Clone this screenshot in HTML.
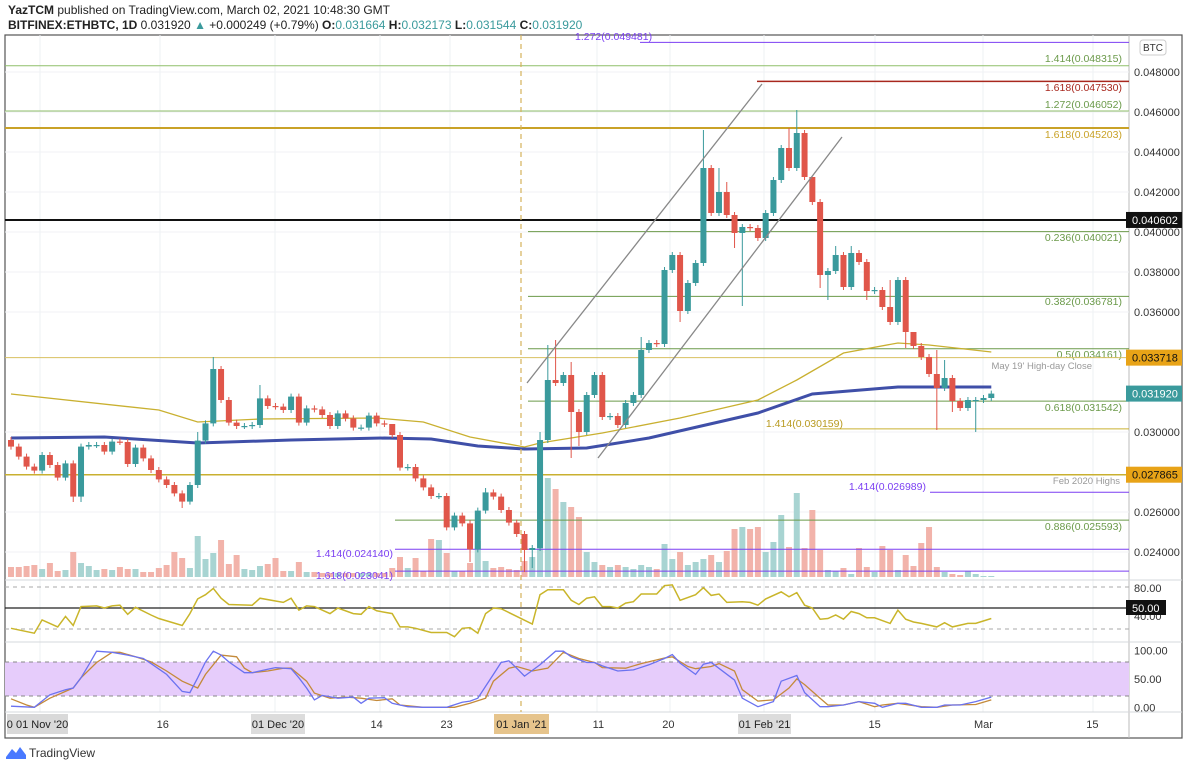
<!DOCTYPE html>
<html><head><meta charset="utf-8">
<style>
html,body{margin:0;padding:0;background:#fff;}
svg{display:block;font-family:"Liberation Sans",Arial,sans-serif;}
</style></head>
<body>
<svg id="chart" width="1185" height="768" viewBox="0 0 1185 768" xmlns="http://www.w3.org/2000/svg">
<rect x="0" y="0" width="1185" height="768" fill="#ffffff"/>
<text x="8" y="14" font-size="12" fill="#222"><tspan font-weight="bold">YazTCM</tspan> published on TradingView.com, March 02, 2021 10:48:30 GMT</text>
<text x="8" y="29" font-size="12" fill="#222"><tspan font-weight="bold">BITFINEX:ETHBTC, 1D</tspan> 0.031920 <tspan fill="#3a9a9c">▲</tspan> +0.000249 (+0.79%) <tspan font-weight="bold">O:</tspan><tspan fill="#3a9a9c">0.031664</tspan> <tspan font-weight="bold">H:</tspan><tspan fill="#3a9a9c">0.032173</tspan> <tspan font-weight="bold">L:</tspan><tspan fill="#3a9a9c">0.031544</tspan> <tspan font-weight="bold">C:</tspan><tspan fill="#3a9a9c">0.031920</tspan></text>
<rect x="5" y="35" width="1177" height="703" fill="none" stroke="#555" stroke-width="1.2"/>
<line x1="1129" y1="35" x2="1129" y2="738" stroke="#bbb"/>
<g id="grid"></g>
<g id="vol"></g>
<g id="levels"></g>
<g id="mas"></g>
<g id="candles"></g>
<g id="drawings"></g>
<g id="osc"></g>
<g id="axes"></g>
<g>
<path d="M6 757 L12 749 L16 753 L20 747 L26 755 L26 759 L6 759 Z" fill="#2962ff" opacity="0.85"/>
<text x="29" y="757" font-size="12" fill="#333">TradingView</text>
</g>
</svg>
<script>
const closes=[0.02927,0.02877,0.02827,0.02807,0.02885,0.02835,0.02772,0.02843,0.02677,0.02927,
0.02935,0.02935,0.02902,0.02952,0.02950,0.02840,0.02922,0.02868,0.02810,0.02763,
0.02735,0.02693,0.02652,0.02735,0.02957,0.03043,0.03315,0.03160,0.03047,0.03030,
0.03030,0.03035,0.03168,0.03130,0.03127,0.03110,0.03177,0.03047,0.03118,0.03113,
0.03085,0.03030,0.03093,0.03068,0.03022,0.03022,0.03082,0.03043,0.03040,0.02985,
0.02822,0.02825,0.02768,0.02723,0.02680,0.02680,0.02523,0.02582,0.02543,0.02413,
0.02607,0.02698,0.02677,0.02610,0.02547,0.02490,0.02410,0.02420,0.02960,0.03260,
0.03245,0.03285,0.03100,0.03000,0.03185,0.03285,0.03075,0.03080,0.03035,0.03145,
0.03185,0.03410,0.03445,0.03440,0.03810,0.03885,0.03605,0.03745,0.03845,0.04320,
0.04095,0.04200,0.04085,0.03995,0.04025,0.04020,0.03970,0.04095,0.04260,0.04420,
0.04320,0.04495,0.04275,0.04150,0.03785,0.03805,0.03885,0.03725,0.03895,0.03850,
0.03705,0.03710,0.03625,0.03550,0.03760,0.03500,0.03430,0.03375,0.03290,0.03220,
0.03270,0.03155,0.03120,0.03160,0.03160,0.03170,0.03192];
const firstOpen=0.02960;
const highOverrides={24:0.0300,26:0.03375,32:0.03235,49:0.03035,61:0.0272,68:0.0300,69:0.03435,70:0.0346,72:0.0335,81:0.03475,89:0.0451,91:0.0432,92:0.0425,100:0.0452,101:0.0461,103:0.0424,106:0.0393,108:0.0393,113:0.0376,116:0.0350,119:0.0341,120:0.0336};
const lowOverrides={8:0.0265,9:0.0265,22:0.0262,59:0.0235,66:0.0230,67:0.0232,72:0.0287,73:0.0293,86:0.0355,93:0.0392,94:0.0363,104:0.0372,105:0.0366,110:0.0366,115:0.0342,119:0.0301,121:0.0310,124:0.0300};
const volumes=[10,10,11,12,8,14,6,7,25,14,11,7,8,7,10,8,8,5,5,9,12,25,19,9,41,18,24,37,13,22,8,7,11,13,19,6,6,15,5,5,4,4,4,4,4,4,4,4,4,9,20,9,19,6,38,37,24,6,6,14,36,16,9,10,8,7,16,
20,115,99,88,75,70,60,25,15,12,10,12,10,8,12,10,8,33,18,25,12,15,18,22,15,26,48,50,48,50,25,35,62,30,84,29,67,27,7,6,9,3,29,10,5,31,27,7,22,11,34,50,10,5,3,2,6,3,1,1];
const ma200Idx=[0,12,24,36,48,54,60,66,74,82,96,103,114,126];
const ma200Val=[0.02970,0.02975,0.02945,0.02960,0.02970,0.02965,0.02930,0.02915,0.02920,0.02970,0.03095,0.03190,0.03225,0.03225];
const ma50Idx=[0,19,24,32,47,53,59,66,68,76,86,96,101,107,114,118,126];
const ma50Val=[0.03190,0.03110,0.03050,0.03065,0.03070,0.03050,0.02975,0.02925,0.02945,0.02995,0.03070,0.03160,0.03260,0.03395,0.03445,0.03435,0.03400];
const rsiIdx=[0,3,4,6,7,8,9,11,12,13,14,15,16,18,19,22,23,24,25,26,27,28,31,32,34,35,36,37,38,39,41,42,44,45,46,47,49,50,51,52,54,56,57,58,59,60,61,62,63,67,68,69,71,72,73,74,75,76,77,78,79,80,81,83,84,85,86,88,89,90,91,92,94,95,96,97,99,100,101,102,103,104,105,106,107,108,109,110,111,113,114,115,116,117,119,120,121,123,124,126];
const rsiVal=[21,14,33,23,38,25,52,53,50,53,54,41,51,40,35,25,42,63,69,78,64,55,54,64,60,58,64,47,53,52,42,50,42,41,52,46,42,23,23,21,15,15,9,21,22,14,42,50,49,27,69,76,76,61,55,64,66,52,52,50,57,59,70,70,82,83,61,69,79,68,70,58,59,58,54,63,73,66,72,54,50,34,35,40,34,45,42,36,36,28,47,34,30,28,23,29,23,28,28,35];
const kIdx=[0,3,5,7,8,9,10,11,13,15,17,18,20,22,23,24,25,26,27,28,30,31,33,34,36,37,38,39,40,42,44,45,46,48,49,51,53,55,56,58,59,60,62,63,64,65,66,68,70,71,72,74,75,76,78,80,82,84,85,86,88,89,90,93,94,96,98,99,101,102,104,105,107,109,111,112,114,115,117,119,120,122,124,126];
const kVal=[2,0,22,31,34,52,75,99,97,92,86,77,58,28,26,52,80,99,92,80,61,61,67,70,68,52,34,13,21,16,18,7,16,17,7,1,0,0,0,9,11,16,58,79,82,69,55,75,99,99,89,79,79,73,64,66,75,86,93,78,58,76,79,48,16,1,10,46,56,26,1,1,4,10,7,0,7,7,0,0,4,4,10,18];
const dIdx=[0,2,3,5,7,8,9,11,13,14,16,18,20,22,24,25,27,29,30,31,33,35,36,38,39,41,43,45,47,49,50,53,57,59,61,62,64,65,67,69,71,73,75,76,79,81,84,85,87,88,90,91,93,94,96,98,100,101,102,104,105,107,109,111,112,114,117,119,121,124,126];
const dVal=[15,4,0,16,28,34,52,79,97,97,89,80,64,46,34,58,92,89,69,61,64,69,69,46,25,16,18,16,12,15,4,0,0,7,16,46,69,72,64,69,97,86,79,70,69,77,87,89,72,68,72,77,64,31,11,13,34,50,40,16,4,4,10,1,4,7,1,0,4,5,13];
const priceTicks=[0.048,0.046,0.044,0.042,0.040,0.038,0.036,0.030,0.026,0.024];
const xLabels=["16","14","23","11","20","15","Mar","15"];
const xLabelDays=[19.5,47,56,75.5,84.5,111,125,139];

const NS="http://www.w3.org/2000/svg";
const X0=11, DX=7.78;
function xAt(i){return X0+i*DX;}
function yP(p){return 72+(0.048-p)*20000;}
function yVol(v){return 577-v;}
function yRsi(v){return 643-0.7*v;}
function yStoch(v){return 707.3-0.567*v;}
function mk(parent,tag,attrs){const e=document.createElementNS(NS,tag);for(const k in attrs)e.setAttribute(k,attrs[k]);document.getElementById(parent).appendChild(e);return e;}
function txt(parent,x,y,s,attrs){const e=mk(parent,'text',Object.assign({x:x,y:y},attrs));e.textContent=s;return e;}

// grid
const gridX=[40,160,275,380,450,597,670,764,875,983,1093];
gridX.forEach(function(gx){const l=mk('grid','line',{x1:gx,y1:35,x2:gx,y2:712,stroke:'#eef0f3','stroke-width':1});

});
priceTicks.forEach(function(p){const l=mk('grid','line',{x1:5,y1:yP(p),x2:1129,y2:yP(p),stroke:'#f0f2f5'});

});
[580,642,712].forEach(function(y){const l=mk('grid','line',{x1:5,y1:y,x2:1182,y2:y,stroke:'#d6d8dc'});

});

// volume
volumes.forEach(function(v,i){const o=i===0?firstOpen:closes[i-1];const up=closes[i]>=o;
const r=mk('vol','rect',{x:xAt(i)-3,y:yVol(v),width:6,height:v,fill:up?'#a8d4d2':'#f2b3aa'});

});

// levels
const lv=[
 {p:0.049481,x1:640,c:'#7b3ff2',w:1,lab:'1.272(0.049481)',lx:575,ly:40,anchor:'start'},
 {p:0.048315,x1:5,c:'#8fbf6a',w:1,lab:'1.414(0.048315)',lx:1122,ly:62,anchor:'end'},
 {p:0.047530,x1:757,c:'#a8281e',w:1.5,lab:'1.618(0.047530)',lx:1122,ly:91,anchor:'end'},
 {p:0.046052,x1:5,c:'#8fbf6a',w:1,lab:'1.272(0.046052)',lx:1122,ly:108,anchor:'end'},
 {p:0.045203,x1:5,c:'#c9a227',w:2,lab:'1.618(0.045203)',lx:1122,ly:138,anchor:'end'},
 {p:0.040602,x1:5,c:'#111',w:2,lab:'',lx:0,ly:0,anchor:'end'},
 {p:0.040021,x1:528,c:'#6b9a4a',w:1,lab:'0.236(0.040021)',lx:1122,ly:241,anchor:'end'},
 {p:0.036781,x1:528,c:'#6b9a4a',w:1,lab:'0.382(0.036781)',lx:1122,ly:305,anchor:'end'},
 {p:0.034161,x1:528,c:'#6b9a4a',w:1,lab:'0.5(0.034161)',lx:1122,ly:358,anchor:'end'},
 {p:0.033718,x1:5,c:'#d8c060',w:1,lab:'',lx:0,ly:0,anchor:'end'},
 {p:0.031542,x1:528,c:'#6b9a4a',w:1,lab:'0.618(0.031542)',lx:1122,ly:411,anchor:'end'},
 {p:0.030159,x1:820,c:'#c9b030',w:1,lab:'1.414(0.030159)',lx:843,ly:427,anchor:'end'},
 {p:0.027865,x1:5,c:'#c9b030',w:1.5,lab:'',lx:0,ly:0,anchor:'end'},
 {p:0.026989,x1:930,c:'#7b3ff2',w:1,lab:'1.414(0.026989)',lx:926,ly:490,anchor:'end'},
 {p:0.025593,x1:395,c:'#6b9a4a',w:1,lab:'0.886(0.025593)',lx:1122,ly:530,anchor:'end'},
 {p:0.024140,x1:395,c:'#7b3ff2',w:1,lab:'1.414(0.024140)',lx:393,ly:557,anchor:'end'},
 {p:0.023041,x1:395,c:'#7b3ff2',w:1,lab:'1.618(0.023041)',lx:393,ly:579,anchor:'end'}];
lv.forEach(function(L){const l=mk('levels','line',{x1:L.x1,y1:yP(L.p),x2:1129,y2:yP(L.p),stroke:L.c,'stroke-width':L.w});


if(L.lab){const t=txt('levels',L.lx,L.ly,L.lab,{'font-size':10.5,fill:L.c==='#111'?'#111':(L.c==='#8fbf6a'?'#6b9a4a':(L.c==='#c9b030'?'#b89a20':L.c)),'text-anchor':L.anchor});

}});
let t1=txt('levels',1092,369,"May 19' High-day Close",{'font-size':9.5,fill:'#999','text-anchor':'end'});


let t2=txt('levels',1120,484,"Feb 2020 Highs",{'font-size':9.5,fill:'#999','text-anchor':'end'});



// vertical dashed line at 01 Jan
const vd=mk('drawings','line',{x1:521,y1:35,x2:521,y2:712,stroke:'#d4b25a','stroke-width':1.2,'stroke-dasharray':'5,4'});


// channel
const ch1=mk('drawings','line',{x1:527,y1:383,x2:762,y2:84,stroke:'#888','stroke-width':1.3});


const ch2=mk('drawings','line',{x1:598,y1:458,x2:842,y2:137,stroke:'#888','stroke-width':1.3});



// MAs
function path(idx,val,fx,fy){return idx.map(function(d,k){return (k?'L':'M')+fx(d).toFixed(1)+' '+fy(val[k]).toFixed(1);}).join(' ');}
const m50=mk('mas','path',{d:path(ma50Idx,ma50Val,xAt,yP),fill:'none',stroke:'#c9b030','stroke-width':1.3});


const m200=mk('mas','path',{d:path(ma200Idx,ma200Val,xAt,yP),fill:'none',stroke:'#3f4fa8','stroke-width':3});



// candles
closes.forEach(function(c,i){const o=i===0?firstOpen:closes[i-1];const up=c>=o;const col=up?'#3a9a9c':'#e0564a';
const h=(i in highOverrides)?highOverrides[i]:Math.max(o,c)+0.00015;
const l=(i in lowOverrides)?lowOverrides[i]:Math.min(o,c)-0.00015;
const w=mk('candles','line',{x1:xAt(i),y1:yP(h),x2:xAt(i),y2:yP(l),stroke:col,'stroke-width':1});


const top=yP(Math.max(o,c)),bot=yP(Math.min(o,c));
const b=mk('candles','rect',{x:xAt(i)-3,y:top,width:6,height:Math.max(1.2,bot-top),fill:col});

});

// oscillators
[[80,'dash'],[50,'solid'],[20,'dash']].forEach(function(a){const l=mk('osc','line',{x1:5,y1:yRsi(a[0]),x2:1129,y2:yRsi(a[0]),stroke:a[1]==='solid'?'#222':'#aaa','stroke-width':a[1]==='solid'?1.2:1,'stroke-dasharray':a[1]==='solid'?'none':'4,4'});

});
const band=mk('osc','rect',{x:5,y:yStoch(80),width:1124,height:yStoch(20)-yStoch(80),fill:'#e6ccfb'});


[80,20].forEach(function(v){const l=mk('osc','line',{x1:5,y1:yStoch(v),x2:1129,y2:yStoch(v),stroke:'#888','stroke-dasharray':'4,4'});

});
const rsi=mk('osc','path',{d:path(rsiIdx,rsiVal,xAt,yRsi),fill:'none',stroke:'#c9b52a','stroke-width':1.5});


const dl=mk('osc','path',{d:path(dIdx,dVal,xAt,yStoch),fill:'none',stroke:'#c48a3a','stroke-width':1.3});


const kl=mk('osc','path',{d:path(kIdx,kVal,xAt,yStoch),fill:'none',stroke:'#6b72f0','stroke-width':1.3});



// price axis
priceTicks.forEach(function(p){const t=txt('axes',1134,yP(p)+4,p.toFixed(6),{'font-size':11,fill:'#333'});

});
function badge(p,bg,fg,s){const y=yP(p);const r=mk('axes','rect',{x:1126,y:y-8,width:56,height:16,fill:bg});


const t=txt('axes',1132,y+4,s,{'font-size':11,fill:fg});

}
badge(0.040602,'#111','#fff','0.040602');
badge(0.033718,'#e8a317','#111','0.033718');
badge(0.031920,'#3a9a9c','#fff','0.031920');
badge(0.027865,'#e8a317','#111','0.027865');
const bb=mk('axes','rect',{x:1140,y:40,width:26,height:15,rx:3,fill:'#fff',stroke:'#ccc'});


const bt=txt('axes',1153,51,'BTC',{'font-size':10,fill:'#333','text-anchor':'middle'});


[[80,'80.00'],[40,'40.00']].forEach(function(a){const t=txt('axes',1134,yRsi(a[0])+5,a[1],{'font-size':11,fill:'#333'});

});
const rb=mk('axes','rect',{x:1126,y:yRsi(50)-8,width:40,height:15,fill:'#111'});


const rbt=txt('axes',1132,yRsi(50)+4,'50.00',{'font-size':11,fill:'#fff'});


[[100,'100.00'],[50,'50.00'],[0,'0.00']].forEach(function(a){const t=txt('axes',1134,yStoch(a[0])+4,a[1],{'font-size':11,fill:'#333'});

});

// time axis
function boxLabel(x,w,s,bg){const r=mk('axes','rect',{x:x,y:714,width:w,height:20,fill:bg});


const t=txt('axes',x+w/2,728,s,{'font-size':11,fill:'#222','text-anchor':'middle'});

}
boxLabel(7,61,"0 01 Nov '20",'#d9d9d9');
boxLabel(251,54,"01 Dec '20",'#dcdcdc');
boxLabel(494,55,"01 Jan '21",'#e6c48c');
boxLabel(738,53,"01 Feb '21",'#dcdcdc');
xLabels.forEach(function(s,k){const t=txt('axes',xAt(xLabelDays[k]),728,s,{'font-size':11,fill:'#333','text-anchor':'middle'});

});
</script>
</body></html>
